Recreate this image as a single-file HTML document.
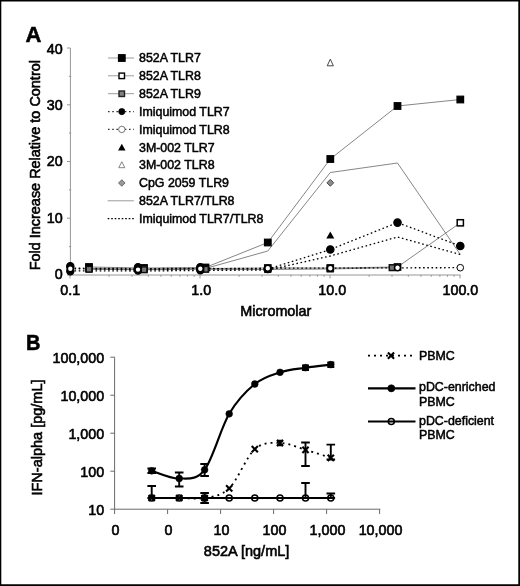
<!DOCTYPE html>
<html><head><meta charset="utf-8"><title>Figure</title>
<style>
html,body{margin:0;padding:0;background:#fff;}
body{width:520px;height:586px;overflow:hidden;position:relative;font-family:"Liberation Sans",Arial,sans-serif;}
svg{position:absolute;left:0;top:0;display:block;}
text{font-family:"Liberation Sans",Arial,sans-serif;fill:#000;}
.tk{font-size:14.3px;stroke:#000;stroke-width:0.6px;}
.at{font-size:14.5px;stroke:#000;stroke-width:0.6px;}
.lg{font-size:12.4px;stroke:#000;stroke-width:0.5px;}
.pl{font-size:22px;font-weight:bold;stroke:#000;stroke-width:0.5px;}
.ax{stroke:#6a6a6a;stroke-width:1;fill:none;}
.axa{stroke:#969696;stroke-width:1;fill:none;}
.thin{stroke:#707070;stroke-width:0.85;fill:none;}
.dot{stroke:#000;stroke-width:1.3;stroke-dasharray:1.6 2.6;fill:none;}
.thick{stroke:#000;stroke-width:2.15;fill:none;}
</style></head><body>
<svg width="520" height="586" viewBox="0 0 520 586">
<rect x="0" y="0" width="520" height="586" fill="#fff"/>

<path d="M0 0H520V586H0Z M1.3 1.6V584.3H518.3V1.6Z" fill="#000" fill-rule="evenodd"/>
<defs><filter id="soft" x="0" y="0" width="520" height="586" filterUnits="userSpaceOnUse"><feGaussianBlur stdDeviation="0.4"/></filter></defs>
<g filter="url(#soft)">
<text class="pl" x="25.5" y="41.7">A</text>
<path class="axa" d="M70.4 48V275.5 M70 275H460.5"/>
<path class="axa" d="M67 275.0H70.4 M67 218.2H70.4 M67 161.5H70.4 M67 104.8H70.4 M67 48.0H70.4 M69 246.6H71.2 M69 189.9H71.2 M69 133.1H71.2 M69 76.4H71.2 M70.0 275V278.4 M109.1 275V276.8 M132.0 275V276.8 M148.3 275V276.8 M160.9 275V276.8 M171.2 275V276.8 M179.9 275V276.8 M187.4 275V276.8 M194.1 275V276.8 M200.0 275V278.4 M239.1 275V276.8 M262.0 275V276.8 M278.3 275V276.8 M290.9 275V276.8 M301.2 275V276.8 M309.9 275V276.8 M317.4 275V276.8 M324.1 275V276.8 M330.0 275V278.4 M369.1 275V276.8 M392.0 275V276.8 M408.3 275V276.8 M420.9 275V276.8 M431.2 275V276.8 M439.9 275V276.8 M447.4 275V276.8 M454.1 275V276.8 M460.0 275V278.4 "/>
<text class="tk" x="62.7" y="279.2" text-anchor="end">0</text>
<text class="tk" x="62.7" y="222.8" text-anchor="end">10</text>
<text class="tk" x="62.7" y="166.4" text-anchor="end">20</text>
<text class="tk" x="62.7" y="110.0" text-anchor="end">30</text>
<text class="tk" x="62.7" y="53.9" text-anchor="end">40</text>
<text class="tk" x="70.3" y="295.3" text-anchor="middle">0.1</text>
<text class="tk" x="201.2" y="295.3" text-anchor="middle">1.0</text>
<text class="tk" x="332.2" y="295.3" text-anchor="middle">10.0</text>
<text class="tk" x="460.4" y="295.3" text-anchor="middle">100.0</text>
<text class="at" style="font-size:14.4px" x="275.8" y="316.4" text-anchor="middle">Micromolar</text>
<text class="at" style="font-size:14.45px" transform="translate(40,165.2) rotate(-90)" text-anchor="middle">Fold Increase Relative to Control</text>
<polyline class="thin" points="89.0,267.0 144.0,268.0 205.4,267.5 267.8,242.5 330.3,159.0 397.5,106.0 460.3,99.5"/>
<polyline class="thin" points="89.0,269.0 144.0,269.5 205.4,268.5 267.8,251.0 330.3,172.5 397.5,163.0 460.3,254.5"/>
<polyline class="thin" points="89.0,268.5 144.0,269.0 205.4,268.5 267.8,268.0 330.3,268.0 397.5,267.0 460.3,222.8"/>
<polyline class="thin" points="89.0,269.3 144.0,269.8 205.4,269.3 267.8,269.5 330.3,269.0 392.2,267.7"/>
<polyline class="dot" points="70.3,268.2 138.0,268.6 200.3,268.4 267.8,269.0 330.3,249.5 397.5,222.6 460.3,246.0"/>
<polyline class="dot" points="70.3,270.8 138.0,271.0 200.3,270.5 267.8,270.0 330.3,256.0 397.5,237.0 460.3,254.5"/>
<polyline class="dot" points="70.3,268.8 138.0,269.6 200.3,268.8 267.8,268.2 330.3,268.2 397.5,267.8 460.3,267.7"/>
<rect x="85.7" y="263.7" width="6.6" height="6.6" fill="#000" stroke="#000" stroke-width="1.2"/>
<rect x="140.7" y="264.7" width="6.6" height="6.6" fill="#000" stroke="#000" stroke-width="1.2"/>
<rect x="202.1" y="264.2" width="6.6" height="6.6" fill="#000" stroke="#000" stroke-width="1.2"/>
<rect x="264.5" y="239.2" width="6.6" height="6.6" fill="#000" stroke="#000" stroke-width="1.2"/>
<rect x="327.0" y="155.7" width="6.6" height="6.6" fill="#000" stroke="#000" stroke-width="1.2"/>
<rect x="394.2" y="102.7" width="6.6" height="6.6" fill="#000" stroke="#000" stroke-width="1.2"/>
<rect x="457.0" y="96.2" width="6.6" height="6.6" fill="#000" stroke="#000" stroke-width="1.2"/>
<rect x="85.9" y="265.4" width="6.2" height="6.2" fill="#fff" stroke="#000" stroke-width="1.5"/>
<rect x="140.9" y="265.9" width="6.2" height="6.2" fill="#fff" stroke="#000" stroke-width="1.5"/>
<rect x="202.3" y="265.4" width="6.2" height="6.2" fill="#fff" stroke="#000" stroke-width="1.5"/>
<rect x="264.7" y="264.9" width="6.2" height="6.2" fill="#fff" stroke="#000" stroke-width="1.5"/>
<rect x="327.2" y="264.9" width="6.2" height="6.2" fill="#fff" stroke="#000" stroke-width="1.5"/>
<rect x="394.4" y="263.9" width="6.2" height="6.2" fill="#fff" stroke="#000" stroke-width="1.5"/>
<rect x="457.2" y="219.7" width="6.2" height="6.2" fill="#fff" stroke="#000" stroke-width="1.5"/>
<rect x="86.2" y="266.4" width="5.7" height="5.7" fill="#777" stroke="#111" stroke-width="1.5"/>
<rect x="141.2" y="266.9" width="5.7" height="5.7" fill="#777" stroke="#111" stroke-width="1.5"/>
<rect x="202.6" y="266.4" width="5.7" height="5.7" fill="#777" stroke="#111" stroke-width="1.5"/>
<rect x="264.9" y="266.6" width="5.7" height="5.7" fill="#777" stroke="#111" stroke-width="1.5"/>
<rect x="327.4" y="266.1" width="5.7" height="5.7" fill="#777" stroke="#111" stroke-width="1.5"/>
<rect x="389.3" y="264.8" width="5.7" height="5.7" fill="#777" stroke="#111" stroke-width="1.5"/>
<circle cx="70.3" cy="266.3" r="3.7" fill="#000" stroke="#000" stroke-width="1.2"/>
<circle cx="138.0" cy="267.2" r="3.7" fill="#000" stroke="#000" stroke-width="1.2"/>
<circle cx="200.3" cy="267.3" r="3.7" fill="#000" stroke="#000" stroke-width="1.2"/>
<circle cx="267.8" cy="269.0" r="3.7" fill="#000" stroke="#000" stroke-width="1.2"/>
<circle cx="330.3" cy="249.5" r="3.7" fill="#000" stroke="#000" stroke-width="1.2"/>
<circle cx="397.5" cy="222.6" r="3.7" fill="#000" stroke="#000" stroke-width="1.2"/>
<circle cx="460.3" cy="246.0" r="3.7" fill="#000" stroke="#000" stroke-width="1.2"/>
<circle cx="70.3" cy="271.2" r="3.6" fill="#000" stroke="#000" stroke-width="1.2"/>
<circle cx="138.0" cy="270.5" r="3.6" fill="#000" stroke="#000" stroke-width="1.2"/>
<circle cx="200.3" cy="270.3" r="3.6" fill="#000" stroke="#000" stroke-width="1.2"/>
<circle cx="70.3" cy="268.8" r="3.0" fill="#fff" stroke="#000" stroke-width="1.6"/>
<circle cx="138.0" cy="269.6" r="3.0" fill="#fff" stroke="#000" stroke-width="1.6"/>
<circle cx="200.3" cy="268.8" r="3.0" fill="#fff" stroke="#000" stroke-width="1.6"/>
<circle cx="267.8" cy="268.2" r="3.0" fill="#fff" stroke="#000" stroke-width="1.6"/>
<circle cx="330.3" cy="268.2" r="3.0" fill="#fff" stroke="#000" stroke-width="1.6"/>
<circle cx="397.5" cy="267.8" r="3.0" fill="#fff" stroke="#000" stroke-width="1.6"/>
<circle cx="460.3" cy="267.7" r="3.3" fill="#fff" stroke="#000" stroke-width="1.0"/>
<path d="M330.3 231.4l4 7.2h-8z" fill="#000"/>
<path d="M330.3 59.2l3.1 6.6h-6.2z" fill="#fff" stroke="#333" stroke-width="0.9"/>
<path d="M330.3 179.4l3.4 3.4l-3.4 3.4l-3.4 -3.4z" fill="#8c8c8c" stroke="#444" stroke-width="1"/>
<text class="lg" x="139" y="62.3">852A TLR7</text>
<path class="thin" style="stroke:#8a8a8a" d="M108 58.0H134"/>
<rect x="118.5" y="54.7" width="6.6" height="6.6" fill="#000" stroke="#000" stroke-width="1.2"/>
<text class="lg" x="139" y="80.1">852A TLR8</text>
<path class="thin" style="stroke:#8a8a8a" d="M108 75.8H134"/>
<rect x="119.0" y="73.1" width="5.5" height="5.5" fill="#fff" stroke="#000" stroke-width="1.4"/>
<text class="lg" x="139" y="98.0">852A TLR9</text>
<path class="thin" style="stroke:#8a8a8a" d="M108 93.7H134"/>
<rect x="119.0" y="91.0" width="5.5" height="5.5" fill="#808080" stroke="#222" stroke-width="1.4"/>
<text class="lg" x="139" y="115.9">Imiquimod TLR7</text>
<path class="dot" style="stroke:#333;stroke-width:1.15" d="M108 111.6H134"/>
<circle cx="121.8" cy="111.6" r="3.1" fill="#000" stroke="#000" stroke-width="0.8"/>
<text class="lg" x="139" y="133.7">Imiquimod TLR8</text>
<path class="dot" style="stroke:#333;stroke-width:1.15" d="M108 129.4H134"/>
<circle cx="121.8" cy="129.4" r="3.2" fill="#fff" stroke="#666" stroke-width="0.9"/>
<text class="lg" x="139" y="151.6">3M-002 TLR7</text>
<path d="M121.8 143.7l3.7 6.8h-7.4z" fill="#000"/>
<text class="lg" x="139" y="169.4">3M-002 TLR8</text>
<path d="M121.8 161.7l3 6h-6z" fill="#fff" stroke="#666" stroke-width="0.8"/>
<text class="lg" x="139" y="187.3">CpG 2059 TLR9</text>
<path d="M121.8 179.7l3.3 3.3l-3.3 3.3l-3.3 -3.3z" fill="#999" stroke="#555" stroke-width="0.8"/>
<text class="lg" x="139" y="205.1">852A TLR7/TLR8</text>
<path class="thin" style="stroke:#888" d="M107.7 200.8H133.8"/>
<text class="lg" x="139" y="223.0">Imiquimod TLR7/TLR8</text>
<path class="dot" style="stroke-width:1.2;stroke-dasharray:1.6 1.9" d="M107.7 218.7H133.8"/>
<text class="pl" transform="translate(26,349.6) scale(0.91,1.035)">B</text>
<path class="ax" d="M114.6 357.5V509.4 M114.6 509.2H380.3"/>
<path class="ax" d="M110.3 509.2H115 M110.3 471.2H115 M110.3 433.2H115 M110.3 395.2H115 M110.3 357.2H115 M114.6 509.2V514 M167.6 509.2V514 M220.6 509.2V514 M273.6 509.2V514 M326.6 509.2V514 M379.6 509.2V514 "/>
<text class="tk" x="104.2" y="515.1" text-anchor="end">10</text>
<text class="tk" x="104.2" y="477.1" text-anchor="end">100</text>
<text class="tk" x="104.2" y="439.1" text-anchor="end">1,000</text>
<text class="tk" x="104.2" y="401.1" text-anchor="end">10,000</text>
<text class="tk" x="104.2" y="363.1" text-anchor="end">100,000</text>
<text class="tk" x="115.5" y="534.6" text-anchor="middle">0</text>
<text class="tk" x="168.5" y="534.6" text-anchor="middle">0</text>
<text class="tk" x="221.5" y="534.6" text-anchor="middle">10</text>
<text class="tk" x="274.5" y="534.6" text-anchor="middle">100</text>
<text class="tk" x="327.5" y="534.6" text-anchor="middle">1,000</text>
<text class="tk" x="380.5" y="534.6" text-anchor="middle">10,000</text>
<text class="at" x="246.6" y="555.8" text-anchor="middle">852A [ng/mL]</text>
<text class="at" transform="translate(42,437.5) rotate(-90)" text-anchor="middle">IFN-alpha [pg/mL]</text>
<path class="dot" style="stroke-width:1.8;stroke-dasharray:2 4" d="M151.7 498.0C156.3 498.0 170.4 498.0 179.2 498.0C188.0 498.0 196.3 499.6 204.6 498.0C212.9 496.4 220.8 496.4 229.2 488.3C237.6 480.2 246.3 456.8 254.8 449.2C263.3 441.6 271.6 442.9 280.0 443.0C288.4 443.1 297.0 447.3 305.5 449.8C314.0 452.3 326.6 456.5 330.8 457.8"/>
<path class="thick" d="M151.7 498H334.8"/>
<path class="thick" d="M151.7 470.8C156.3 472.1 170.4 478.7 179.2 478.5C188.0 478.3 196.3 480.6 204.6 469.8C212.9 459.0 220.8 428.1 229.2 413.8C237.6 399.5 246.3 390.9 254.8 384.0C263.3 377.1 271.6 375.0 280.0 372.3C288.4 369.6 297.0 369.0 305.5 367.7C314.0 366.4 326.6 365.1 330.8 364.6"/>
<path d="M147.4 468.5H156.0M151.7 468.5V473.0M147.4 473.0H156.0" stroke="#000" stroke-width="1.9" fill="none"/>
<path d="M174.9 472.5H183.5M179.2 472.5V486.5M174.9 486.5H183.5" stroke="#000" stroke-width="1.9" fill="none"/>
<path d="M200.3 464.0H208.9M204.6 464.0V476.0M200.3 476.0H208.9" stroke="#000" stroke-width="1.9" fill="none"/>
<path d="M147.4 486.0H156.0M151.7 486.0V498.0M147.4 498.0H156.0" stroke="#000" stroke-width="1.9" fill="none"/>
<path d="M200.3 493.0H208.9M204.6 493.0V503.0M200.3 503.0H208.9" stroke="#000" stroke-width="1.9" fill="none"/>
<path d="M301.2 442.5H309.8M305.5 442.5V466.0M301.2 466.0H309.8" stroke="#000" stroke-width="1.9" fill="none"/>
<path d="M326.5 444.6H335.1M330.8 444.6V459.5M326.5 459.5H335.1" stroke="#000" stroke-width="1.9" fill="none"/>
<path d="M301.2 483.0H309.8M305.5 483.0V498.0M301.2 498.0H309.8" stroke="#000" stroke-width="1.9" fill="none"/>
<path d="M326.5 493.5H335.1M330.8 493.5V498.0M326.5 498.0H335.1" stroke="#000" stroke-width="1.9" fill="none"/>
<path d="M302.0 365.5H309.0M305.5 365.5V370.0M302.0 370.0H309.0" stroke="#000" stroke-width="1.9" fill="none"/>
<path d="M327.3 362.5H334.3M330.8 362.5V367.0M327.3 367.0H334.3" stroke="#000" stroke-width="1.9" fill="none"/>
<path d="M277.0 440.8H283.0M280.0 440.8V445.2M277.0 445.2H283.0" stroke="#000" stroke-width="1.9" fill="none"/>
<path d="M148.6 494.9L154.8 501.1M148.6 501.1L154.8 494.9" stroke="#000" stroke-width="2.1" fill="none"/>
<path d="M176.1 494.9L182.3 501.1M176.1 501.1L182.3 494.9" stroke="#000" stroke-width="2.1" fill="none"/>
<path d="M201.5 494.9L207.7 501.1M201.5 501.1L207.7 494.9" stroke="#000" stroke-width="2.1" fill="none"/>
<path d="M226.1 485.2L232.3 491.4M226.1 491.4L232.3 485.2" stroke="#000" stroke-width="2.1" fill="none"/>
<path d="M251.7 446.1L257.9 452.3M251.7 452.3L257.9 446.1" stroke="#000" stroke-width="2.1" fill="none"/>
<path d="M276.9 439.9L283.1 446.1M276.9 446.1L283.1 439.9" stroke="#000" stroke-width="2.1" fill="none"/>
<path d="M302.4 446.7L308.6 452.9M302.4 452.9L308.6 446.7" stroke="#000" stroke-width="2.1" fill="none"/>
<path d="M327.7 454.7L333.9 460.9M327.7 460.9L333.9 454.7" stroke="#000" stroke-width="2.1" fill="none"/>
<circle cx="151.7" cy="498.0" r="3.0" fill="none" stroke="#000" stroke-width="1.6"/>
<circle cx="179.2" cy="498.0" r="3.0" fill="none" stroke="#000" stroke-width="1.6"/>
<circle cx="204.6" cy="498.0" r="3.0" fill="none" stroke="#000" stroke-width="1.6"/>
<circle cx="229.2" cy="498.0" r="3.0" fill="none" stroke="#000" stroke-width="1.6"/>
<circle cx="254.8" cy="498.0" r="3.0" fill="none" stroke="#000" stroke-width="1.6"/>
<circle cx="280.0" cy="498.0" r="3.0" fill="none" stroke="#000" stroke-width="1.6"/>
<circle cx="305.5" cy="498.0" r="3.0" fill="none" stroke="#000" stroke-width="1.6"/>
<circle cx="330.8" cy="498.0" r="3.0" fill="none" stroke="#000" stroke-width="1.6"/>
<circle cx="151.7" cy="470.8" r="3.4" fill="#000" stroke="#000" stroke-width="0.5"/>
<circle cx="179.2" cy="478.5" r="3.4" fill="#000" stroke="#000" stroke-width="0.5"/>
<circle cx="204.6" cy="469.8" r="3.4" fill="#000" stroke="#000" stroke-width="0.5"/>
<circle cx="229.2" cy="413.8" r="3.4" fill="#000" stroke="#000" stroke-width="0.5"/>
<circle cx="254.8" cy="384.0" r="3.4" fill="#000" stroke="#000" stroke-width="0.5"/>
<circle cx="280.0" cy="372.3" r="3.4" fill="#000" stroke="#000" stroke-width="0.5"/>
<circle cx="305.5" cy="367.7" r="3.4" fill="#000" stroke="#000" stroke-width="0.5"/>
<circle cx="330.8" cy="364.6" r="3.4" fill="#000" stroke="#000" stroke-width="0.5"/>
<path class="dot" style="stroke-width:1.8;stroke-dasharray:2 4" d="M368 355.6H416"/>
<path d="M387.9 352.5L394.1 358.7M387.9 358.7L394.1 352.5" stroke="#000" stroke-width="2.1" fill="none"/>
<text class="lg" x="419" y="359.6">PBMC</text>
<path class="thick" d="M368 388.3H415.5"/>
<circle cx="391.3" cy="388.3" r="3.6" fill="#000" stroke="#000" stroke-width="0.5"/>
<text class="lg" x="419" y="391.3">pDC-enriched</text>
<text class="lg" x="419" y="406.2">PBMC</text>
<path class="thick" d="M368 421.5H415.5"/>
<circle cx="391.3" cy="421.5" r="3.0" fill="none" stroke="#000" stroke-width="1.6"/>
<text class="lg" x="419" y="424.6">pDC-deficient</text>
<text class="lg" x="419" y="439.2">PBMC</text>
</g>
</svg></body></html>
